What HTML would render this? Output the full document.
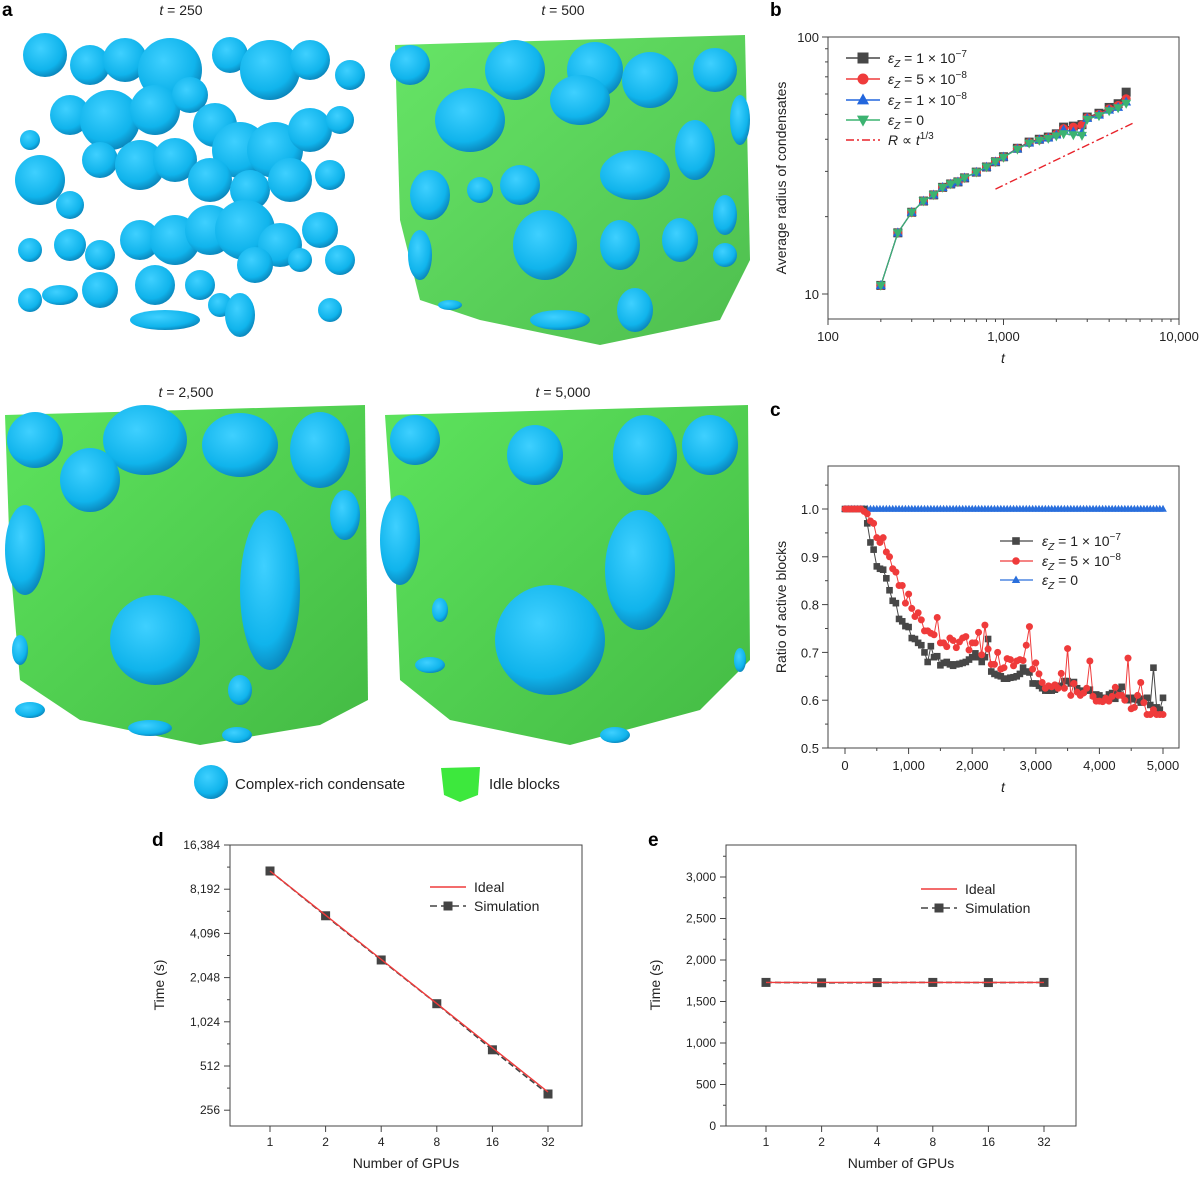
<!DOCTYPE html>
<html><head><meta charset="utf-8"><style>
body{margin:0;background:#fff;}
svg text{font-family:"Liberation Sans",sans-serif;fill:#222;}
.tk{font-size:13px;}
.lb{font-size:14px;}
.pl{font-size:19px;font-weight:bold;fill:#000;}
</style></head><body>
<svg id="fig" width="1200" height="1172" viewBox="0 0 1200 1172" xmlns="http://www.w3.org/2000/svg">
<defs>
<radialGradient id="bg" cx="40%" cy="35%" r="70%"><stop offset="0" stop-color="#3fd0ff"/><stop offset="0.7" stop-color="#10b4ec"/><stop offset="1" stop-color="#0a7fb4"/></radialGradient>
<linearGradient id="gg" x1="0" y1="0" x2="1" y2="1"><stop offset="0" stop-color="#4be04b"/><stop offset="1" stop-color="#2fb32f"/></linearGradient>
</defs>
<g id="panelA"></g>
<g id="panelB"></g>
<g id="panelC"></g>
<g id="panelD"></g>
<g id="panelE"></g>
</svg>
<script>
// ---------- data ----------
const bT = [200,250,300,350,400,450,500,550,600,700,800,900,1000,1200,1400,1600,1800,2000,2200,2500,2800,3000,3500,4000,4500,5000];
const bBlack = [10.8,17.3,20.8,23.0,24.3,26.0,26.8,27.3,28.3,29.8,31.2,32.7,34.2,36.9,39.0,40.0,40.8,42.0,44.6,45.0,45.6,48.8,50.5,53.2,55.0,61.0];
const bRed   = [10.8,17.3,20.8,23.0,24.3,26.0,26.8,27.3,28.3,29.8,31.2,32.7,34.1,36.8,38.8,39.8,40.6,41.8,44.0,44.6,45.4,48.5,50.0,52.5,54.2,57.5];
const bBlue  = [10.8,17.3,20.8,23.0,24.3,26.0,26.8,27.3,28.3,29.8,31.2,32.7,34.1,36.7,38.7,39.8,40.5,41.6,43.5,42.8,42.5,48.3,49.7,52.0,53.3,55.9];
const bGreen = [10.8,17.3,20.8,23.0,24.3,26.0,26.8,27.3,28.3,29.8,31.2,32.7,34.0,36.6,38.6,39.6,40.3,41.2,42.0,41.6,41.4,47.8,49.4,51.6,53.0,55.2];
const bRefT = [900,5500];
const bRefR = [25.6,46.3];

const cBlack = [1,1,1,1,1,1,1,0.97,0.93,0.915,0.88,0.875,0.873,0.855,0.83,0.808,0.803,0.77,0.765,0.755,0.753,0.73,0.728,0.72,0.715,0.70,0.68,0.713,0.69,0.692,0.673,0.678,0.68,0.675,0.672,0.675,0.676,0.678,0.68,0.685,0.69,0.698,0.69,0.68,0.69,0.728,0.66,0.655,0.652,0.65,0.645,0.645,0.647,0.648,0.65,0.655,0.668,0.66,0.658,0.635,0.635,0.63,0.625,0.62,0.62,0.62,0.622,0.63,0.63,0.64,0.64,0.635,0.638,0.625,0.62,0.618,0.62,0.622,0.61,0.612,0.61,0.60,0.605,0.612,0.615,0.603,0.62,0.628,0.605,0.60,0.605,0.602,0.60,0.595,0.603,0.605,0.59,0.668,0.585,0.58,0.605];
const cRed = [1,1,1,1,1,1,0.995,0.99,0.975,0.97,0.94,0.93,0.94,0.91,0.90,0.875,0.868,0.84,0.84,0.803,0.822,0.792,0.775,0.783,0.768,0.745,0.745,0.74,0.737,0.773,0.72,0.72,0.712,0.73,0.725,0.71,0.722,0.73,0.733,0.705,0.72,0.72,0.742,0.695,0.757,0.707,0.675,0.675,0.70,0.665,0.668,0.687,0.685,0.672,0.682,0.685,0.683,0.715,0.754,0.665,0.678,0.655,0.637,0.625,0.63,0.628,0.632,0.625,0.656,0.625,0.708,0.61,0.635,0.617,0.61,0.615,0.625,0.682,0.608,0.598,0.598,0.597,0.604,0.598,0.608,0.627,0.61,0.61,0.60,0.688,0.582,0.585,0.61,0.637,0.595,0.57,0.57,0.58,0.57,0.57,0.57];
const cBlue = new Array(101).fill(1.0);
const cStep = 50;

const gpus = [1,2,4,8,16,32];
const dSim = [10900,5400,2700,1360,660,330];
const dIdealBase = 10900;
const eSim = [1730,1725,1728,1730,1728,1730];
const eIdeal = [1730,1730,1730,1730,1730,1730];

const NS="http://www.w3.org/2000/svg";
function mk(parent,tag,attrs,text){const e=document.createElementNS(NS,tag);for(const k in attrs)e.setAttribute(k,attrs[k]);if(text!==undefined)e.textContent=text;parent.appendChild(e);return e;}

// ---------- panel A ----------
const A=document.getElementById('panelA');
function label(p,x,y,tval){const t=mk(p,'text',{x:x,y:y,'text-anchor':'middle','font-size':'14'});

mk(t,'tspan',{'font-style':'italic'},'t');mk(t,'tspan',{},' = '+tval);}
mk(A,'text',{x:2,y:16,class:'pl'},'a');
label(A,181,15,'250');label(A,563,15,'500');label(A,186,397,'2,500');label(A,563,397,'5,000');
function blobs(g,list){list.forEach(c=>{const e=mk(g,'ellipse',{cx:c[0],cy:c[1],rx:c[2],ry:c[3]||c[2],fill:'url(#bg)'});});}
// top-left
const g1=mk(A,'g',{});
blobs(g1,[[45,55,22],[90,65,20],[125,60,22],[170,70,32],[230,55,18],[270,70,30],[310,60,20],[350,75,15],[30,140,10],[70,115,20],[110,120,30],[155,110,25],[190,95,18],[215,125,22],[240,150,28],[275,150,28],[310,130,22],[340,120,14],[40,180,25],[70,205,14],[100,160,18],[140,165,25],[175,160,22],[210,180,22],[250,190,20],[290,180,22],[330,175,15],[70,245,16],[100,255,15],[140,240,20],[175,240,25],[210,230,25],[245,230,30],[280,245,22],[320,230,18],[340,260,15],[30,250,12],[100,290,18],[155,285,20],[200,285,15],[220,305,12],[255,265,18],[300,260,12],[330,310,12],[30,300,12],[165,320,35,10],[240,315,15,22],[60,295,18,10]]);
// top-right
const g2=mk(A,'g',{});
mk(g2,'path',{d:'M395,45 L745,35 L750,260 L720,320 L600,345 L480,320 L420,300 L400,220 Z',fill:'url(#gg)',opacity:'0.85'});
blobs(g2,[[410,65,20],[515,70,30],[595,70,28],[650,80,28],[715,70,22],[470,120,35,32],[580,100,30,25],[635,175,35,25],[695,150,20,30],[740,120,10,25],[430,195,20,25],[480,190,13],[520,185,20],[545,245,32,35],[620,245,20,25],[680,240,18,22],[725,215,12,20],[420,255,12,25],[450,305,12,5],[560,320,30,10],[635,310,18,22],[725,255,12,12]]);
// bottom-left
const g3=mk(A,'g',{});
mk(g3,'path',{d:'M5,415 L365,405 L368,700 L320,725 L200,745 L80,720 L20,680 L10,560 Z',fill:'url(#gg)',opacity:'0.9'});
blobs(g3,[[35,440,28],[145,440,42,35],[240,445,38,32],[320,450,30,38],[90,480,30,32],[345,515,15,25],[25,550,20,45],[270,590,30,80],[155,640,45,45],[240,690,12,15],[20,650,8,15],[30,710,15,8],[150,728,22,8],[237,735,15,8]]);
// bottom-right
const g4=mk(A,'g',{});
mk(g4,'path',{d:'M385,415 L748,405 L750,660 L700,710 L570,745 L450,720 L400,680 L395,560 Z',fill:'url(#gg)',opacity:'0.9'});
blobs(g4,[[415,440,25],[535,455,28,30],[645,455,32,40],[710,445,28,30],[400,540,20,45],[640,570,35,60],[550,640,55,55],[440,610,8,12],[430,665,15,8],[615,735,15,8],[740,660,6,12]]);
// legend
const lg=mk(A,'g',{});
mk(lg,'circle',{cx:211,cy:782,r:17,fill:'url(#bg)'});
mk(lg,'text',{x:235,y:789,'font-size':'15'},'Complex-rich condensate');
mk(lg,'path',{d:'M441,768 L480,767 L478,795 L460,802 L444,795 Z',fill:'#3de83d'});
mk(lg,'text',{x:489,y:789,'font-size':'15'},'Idle blocks');

// ---------- helpers ----------
function frame(p,x0,y0,x1,y1){const r=mk(p,'rect',{x:x0,y:y0,width:x1-x0,height:y1-y0,fill:'none',stroke:'#444','stroke-width':1});}
function eps(p,x,y,rest,sup){const t=mk(p,'text',{x:x,y:y,'font-size':'14'});
mk(t,'tspan',{'font-style':'italic'},'ε');mk(t,'tspan',{'font-size':'10','font-style':'italic',dy:'4'},'Z');
mk(t,'tspan',{dy:'-4'},' = '+rest);if(sup)mk(t,'tspan',{'font-size':'10',dy:'-6'},sup);return t;}
function marker(p,type,x,y,s,col){let e;
 if(type==='sq')e=mk(p,'rect',{x:x-s,y:y-s,width:2*s,height:2*s,fill:col});
 else if(type==='ci')e=mk(p,'circle',{cx:x,cy:y,r:s,fill:col});
 else if(type==='up')e=mk(p,'path',{d:`M${x},${y-s*1.2}L${x+s*1.1},${y+s*0.8}L${x-s*1.1},${y+s*0.8}Z`,fill:col});
 else e=mk(p,'path',{d:`M${x},${y+s*1.2}L${x+s*1.1},${y-s*0.8}L${x-s*1.1},${y-s*0.8}Z`,fill:col});
 return e;}

// ---------- panel B ----------
(function(){
const P=document.getElementById('panelB');
const X0=828,X1=1179,Y0=37,Y1=319;
const xs=t=>X0+(Math.log10(t)-2)*(X1-X0)/2;
const ys=r=>37+(2-Math.log10(r))*257;
mk(P,'text',{x:770,y:16,class:'pl'},'b');
frame(P,X0,Y0,X1,Y1);
[100,1000,10000].forEach((v,i)=>{const x=xs(v);mk(P,'line',{x1:x,x2:x,y1:Y1,y2:Y1+6,stroke:'#444'});
 const t=mk(P,'text',{x:x,y:Y1+22,'text-anchor':'middle',class:'tk'},['100','1,000','10,000'][i]);});
for(let d=100;d<10000;d*=10)for(let k=2;k<10;k++){const x=xs(d*k);mk(P,'line',{x1:x,x2:x,y1:Y1,y2:Y1+3,stroke:'#444'});}
[10,100].forEach(v=>{const y=ys(v);mk(P,'line',{x1:X0-6,x2:X0,y1:y,y2:y,stroke:'#444'});
 const t=mk(P,'text',{x:X0-9,y:y+5,'text-anchor':'end',class:'tk'},String(v));});
for(let k=2;k<10;k++){const y=ys(10*k);if(y<Y1){mk(P,'line',{x1:X0-3,x2:X0,y1:y,y2:y,stroke:'#444'});}}
const yl=mk(P,'text',{x:0,y:0,'text-anchor':'middle',class:'lb',transform:'translate(786,178) rotate(-90)'},'Average radius of condensates');
const xl=mk(P,'text',{x:1003,y:363,'text-anchor':'middle',class:'lb','font-style':'italic'},'t');
const series=[[bBlack,'#474747','sq',4.5,'series-1e-7'],[bRed,'#ef3b3b','ci',4.5,'series-5e-8'],[bBlue,'#2266dd','up',4.5,'series-1e-8'],[bGreen,'#3cb371','dn',4.5,'series-0']];
series.forEach(s=>{const g=mk(P,'g',{});
 mk(g,'polyline',{points:bT.map((t,i)=>xs(t)+','+ys(s[0][i])).join(' '),fill:'none',stroke:s[1],'stroke-width':1.2});
 bT.forEach((t,i)=>{const m=marker(g,s[2],xs(t),ys(s[0][i]),s[3],s[1]);});});
const rl=mk(P,'line',{x1:xs(bRefT[0]),y1:ys(bRefR[0]),x2:xs(bRefT[1]),y2:ys(bRefR[1]),stroke:'#e8222a','stroke-width':1.4,'stroke-dasharray':'8,3,2,3'});
// legend
const L=mk(P,'g',{});
const ly=[58,79,100,120,140];
series.forEach((s,i)=>{mk(L,'line',{x1:846,x2:880,y1:ly[i],y2:ly[i],stroke:s[1],'stroke-width':1.5});marker(L,s[2],863,ly[i],5.5,s[1]);});
eps(L,888,ly[0]+5,'1 × 10','−7');eps(L,888,ly[1]+5,'5 × 10','−8');eps(L,888,ly[2]+5,'1 × 10','−8');eps(L,888,ly[3]+5,'0');
mk(L,'line',{x1:846,x2:880,y1:ly[4],y2:ly[4],stroke:'#e8222a','stroke-width':1.4,'stroke-dasharray':'8,3,2,3'});
const rt=mk(L,'text',{x:888,y:ly[4]+5,'font-size':'14'});mk(rt,'tspan',{'font-style':'italic'},'R');mk(rt,'tspan',{},' ∝ ');mk(rt,'tspan',{'font-style':'italic'},'t');mk(rt,'tspan',{'font-size':'10',dy:'-6'},'1/3');
})();

// ---------- panel C ----------
(function(){
const P=document.getElementById('panelC');
const X0=828,X1=1179,Y0=466,Y1=748;
const xs=t=>845+t*(1163-845)/5000;
const ys=v=>509+(1-v)*478;
mk(P,'text',{x:770,y:416,class:'pl'},'c');
frame(P,X0,Y0,X1,Y1);
[0,1000,2000,3000,4000,5000].forEach((v,i)=>{const x=xs(v);mk(P,'line',{x1:x,x2:x,y1:Y1,y2:Y1+6,stroke:'#444'});
 const t=mk(P,'text',{x:x,y:Y1+22,'text-anchor':'middle',class:'tk'},['0','1,000','2,000','3,000','4,000','5,000'][i]);});
[500,1500,2500,3500,4500].forEach(v=>{const x=xs(v);mk(P,'line',{x1:x,x2:x,y1:Y1,y2:Y1+3,stroke:'#444'});});
[0.5,0.6,0.7,0.8,0.9,1.0].forEach(v=>{const y=ys(v);mk(P,'line',{x1:X0-6,x2:X0,y1:y,y2:y,stroke:'#444'});
 const t=mk(P,'text',{x:X0-9,y:y+5,'text-anchor':'end',class:'tk'},v.toFixed(1));});
[0.55,0.65,0.75,0.85,0.95,1.05].forEach(v=>{const y=ys(v);mk(P,'line',{x1:X0-3,x2:X0,y1:y,y2:y,stroke:'#444'});});
const yl=mk(P,'text',{x:0,y:0,'text-anchor':'middle',class:'lb',transform:'translate(786,607) rotate(-90)'},'Ratio of active blocks');
const xl=mk(P,'text',{x:1003,y:792,'text-anchor':'middle',class:'lb','font-style':'italic'},'t');
const series=[[cBlue,'#2a6fdc','up',3.5,'series-0'],[cBlack,'#474747','sq',3.3,'series-1e-7'],[cRed,'#ef3b3b','ci',3.5,'series-5e-8']];
series.forEach(s=>{const g=mk(P,'g',{});
 mk(g,'polyline',{points:s[0].map((v,i)=>xs(i*cStep)+','+ys(v)).join(' '),fill:'none',stroke:s[1],'stroke-width':1});
 s[0].forEach((v,i)=>{const m=marker(g,s[2],xs(i*cStep),ys(v),s[3],s[1]);});});
const L=mk(P,'g',{});
const ly=[541,561,580];const ls=[series[1],series[2],series[0]];
ls.forEach((s,i)=>{mk(L,'line',{x1:1000,x2:1033,y1:ly[i],y2:ly[i],stroke:s[1],'stroke-width':1.2});marker(L,s[2],1016,ly[i],3.8,s[1]);});
eps(L,1042,ly[0]+5,'1 × 10','−7');eps(L,1042,ly[1]+5,'5 × 10','−8');eps(L,1042,ly[2]+5,'0');
})();

// ---------- panels D & E ----------
function gpuPanel(id,letter,X0,X1,xsFirst,xsLast,ys,ticks,tickLbl,minor,sim,ideal,legX,legY){
const P=document.getElementById(id);const Y0=845,Y1=1126;
const xs=i=>xsFirst+i*(xsLast-xsFirst)/(gpus.length-1);
mk(P,'text',{x:X0-78,y:846,class:'pl'},letter);
frame(P,X0,Y0,X1,Y1);
gpus.forEach((g,i)=>{const x=xs(i);mk(P,'line',{x1:x,x2:x,y1:Y1,y2:Y1+6,stroke:'#444'});
 const t=mk(P,'text',{x:x,y:Y1+20,'text-anchor':'middle','font-size':'12'},String(g));});
ticks.forEach((v,i)=>{const y=ys(v);mk(P,'line',{x1:X0-6,x2:X0,y1:y,y2:y,stroke:'#444'});
 const t=mk(P,'text',{x:X0-10,y:y+4,'text-anchor':'end','font-size':'12'},tickLbl[i]);});
minor.forEach(v=>{const y=ys(v);mk(P,'line',{x1:X0-3,x2:X0,y1:y,y2:y,stroke:'#444'});});
const yl=mk(P,'text',{x:0,y:0,'text-anchor':'middle',class:'lb',transform:`translate(${X0-66},985) rotate(-90)`},'Time (s)');
const xl=mk(P,'text',{x:(X0+X1)/2,y:1168,'text-anchor':'middle',class:'lb'},'Number of GPUs');
const gs=mk(P,'g',{});
mk(gs,'polyline',{points:sim.map((v,i)=>xs(i)+','+ys(v)).join(' '),fill:'none',stroke:'#444','stroke-width':1.6,'stroke-dasharray':'6,3'});
sim.forEach((v,i)=>{const m=marker(gs,'sq',xs(i),ys(v),4.5,'#444');});
const gi=mk(P,'polyline',{points:ideal.map((v,i)=>xs(i)+','+ys(v)).join(' '),fill:'none',stroke:'#ef3b3b','stroke-width':1.4});
const L=mk(P,'g',{});
mk(L,'line',{x1:legX,x2:legX+36,y1:legY,y2:legY,stroke:'#ef3b3b','stroke-width':1.6});
mk(L,'text',{x:legX+44,y:legY+5,'font-size':'14'},'Ideal');
mk(L,'line',{x1:legX,x2:legX+36,y1:legY+19,y2:legY+19,stroke:'#444','stroke-width':1.6,'stroke-dasharray':'7,4'});
marker(L,'sq',legX+18,legY+19,4.5,'#444');
mk(L,'text',{x:legX+44,y:legY+24,'font-size':'14'},'Simulation');
}
const dIdeal=gpus.map(g=>dIdealBase/g);
gpuPanel('panelD','d',230,582,270,548,v=>845+(14-Math.log2(v))*44.2,[16384,8192,4096,2048,1024,512,256],['16,384','8,192','4,096','2,048','1,024','512','256'],[11585,5793,2896,1448,724,362],dSim,dIdeal,430,887);
gpuPanel('panelE','e',726,1076,766,1044,v=>1126-v*0.083,[0,500,1000,1500,2000,2500,3000],['0','500','1,000','1,500','2,000','2,500','3,000'],[250,750,1250,1750,2250,2750,3250],eSim,eIdeal,921,889);
</script>
</body></html>
